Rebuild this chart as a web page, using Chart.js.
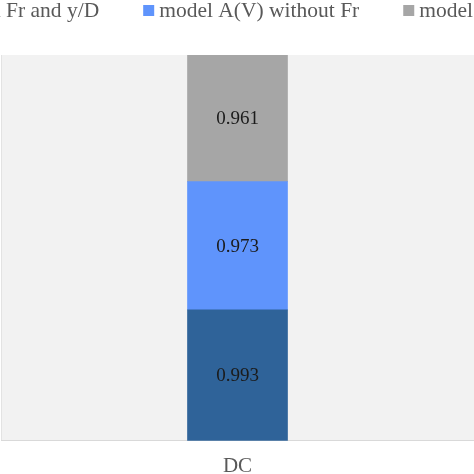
<!DOCTYPE html>
<html>
<head>
<meta charset="utf-8">
<script src="https://cdn.jsdelivr.net/npm/chart.js@4.4.1/dist/chart.umd.min.js"></script>
<style>
  html, body { margin: 0; padding: 0; background: #fff; overflow: hidden; }
  #wrap { position: relative; width: 474px; height: 492px; }
</style>
</head>
<body>
<div id="wrap"><canvas id="chart"></canvas></div>
<script>
const categories = ['DC'];
const seriesNames = [
  'model A(V) with Fr and y/D',
  'model A(V) without Fr',
  'model A(V) without y/D'
];
const withFrYD = [0.993];
const withoutFr = [0.973];
const withoutYD = [0.961];
const seriesColors = ['#2F6399', '#5F94FC', '#A6A6A6'];

const FONT = "'Liberation Serif', 'Times New Roman', serif";
const yMax = withFrYD[0] + withoutFr[0] + withoutYD[0];

// gray plot background
const plotBg = {
  id: 'plotBg',
  beforeDraw(chart) {
    const { ctx, chartArea: a } = chart;
    ctx.save();
    ctx.fillStyle = '#F2F2F2';
    ctx.fillRect(a.left, a.top, a.right - a.left, a.bottom - a.top);
    ctx.strokeStyle = '#E3E3E3';
    ctx.lineWidth = 1;
    ctx.beginPath();
    ctx.moveTo(a.left + 0.5, a.top);
    ctx.lineTo(a.left + 0.5, a.bottom);
    ctx.stroke();
    ctx.restore();
  }
};

// value labels in the middle of each segment
const segLabels = {
  id: 'segLabels',
  afterDatasetsDraw(chart) {
    const { ctx } = chart;
    ctx.save();
    ctx.font = '19px ' + FONT;
    ctx.fillStyle = '#1b1b1b';
    ctx.textAlign = 'center';
    ctx.textBaseline = 'middle';
    chart.data.datasets.forEach((ds, i) => {
      chart.getDatasetMeta(i).data.forEach((bar, j) => {
        const p = bar.getProps(['x', 'y', 'base'], true);
        ctx.fillText(ds.data[j].toFixed(3), p.x, (p.y + p.base) / 2 + 1);
      });
    });
    ctx.restore();
  }
};

// legend row, Excel style (small square, short gap)
const legendRow = {
  id: 'legendRow',
  afterDraw(chart) {
    const { ctx, chartArea: a } = chart;
    const box = 11, gap = 5, spacing = 44, shift = -3;
    ctx.save();
    ctx.font = '21.5px ' + FONT;
    const items = chart.data.datasets.map(ds => ({
      text: ds.label,
      color: ds.backgroundColor,
      w: box + gap + ctx.measureText(ds.label).width
    }));
    const total = items.reduce((s, it) => s + it.w, 0) + spacing * (items.length - 1);
    let x = (a.left + a.right) / 2 - total / 2 + shift;
    items.forEach(it => {
      ctx.fillStyle = it.color;
      ctx.fillRect(x, 5, box, box);
      ctx.fillStyle = '#595959';
      ctx.textBaseline = 'alphabetic';
      ctx.fillText(it.text, x + box + gap, 17);
      x += it.w + spacing;
    });
    ctx.restore();
  }
};

new Chart(document.getElementById('chart'), {
  type: 'bar',
  data: {
    labels: categories,
    datasets: [
      { label: seriesNames[0], data: withFrYD, backgroundColor: seriesColors[0] },
      { label: seriesNames[1], data: withoutFr, backgroundColor: seriesColors[1] },
      { label: seriesNames[2], data: withoutYD, backgroundColor: seriesColors[2] }
    ]
  },
  options: {
    responsive: true,
    maintainAspectRatio: false,
    animation: false,
    layout: { padding: { top: 55, left: 1, right: 0, bottom: 0 } },
    datasets: { bar: { barThickness: 100, borderWidth: 0 } },
    plugins: {
      legend: { display: false },
      tooltip: { enabled: false }
    },
    scales: {
      x: {
        stacked: true,
        grid: { display: false, drawTicks: false },
        border: { display: true, color: '#D9D9D9', width: 1 },
        ticks: { color: '#595959', font: { family: FONT, size: 21 }, padding: 13 }
      },
      y: {
        stacked: true,
        display: false,
        min: 0,
        max: yMax
      }
    }
  },
  plugins: [plotBg, segLabels, legendRow]
});
</script>
</body>
</html>
